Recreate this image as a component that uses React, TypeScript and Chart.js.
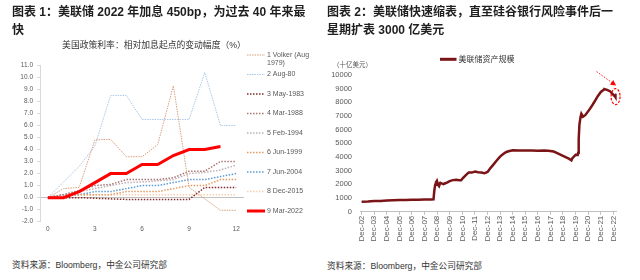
import React, { useEffect, useRef } from "react";
import { Chart, registerables } from "chart.js";

Chart.register(...registerables);

const FONT = "'Liberation Sans', Arial, 'Noto Sans CJK SC', sans-serif";

// ---------- Left chart data ----------
const leftTitle1 = "图表 1：美联储 2022 年加息 450bp，为过去 40 年来最";
const leftTitle2 = "快";
const rateSubtitle = "美国政策利率：相对加息起点的变动幅度（%）";
const rateMonths = ["0", "1", "2", "3", "4", "5", "6", "7", "8", "9", "10", "11", "12"];
const rateSeriesNames = [
  "1 Volker (Aug 1979)",
  "2 Aug-80",
  "3 May-1983",
  "4 Mar-1988",
  "5 Feb-1994",
  "6 Jun-1999",
  "7 Jun-2004",
  "8 Dec-2015",
  "9 Mar-2022",
];
const volker1979 = [0, 0.75, 0.85, 4.8, 4.85, 3.4, 3.4, 4.4, 9.3, 0.85, -0.1, -1.05, -1.05];
const aug1980 = [0, 1.3, 2.6, 4.3, 8.5, 8.5, 6.5, 6.5, 6.5, 6.5, 10.4, 6.0, 6.0];
const may1983 = [0, 0, 0, -0.05, -0.1, -0.15, -0.15, -0.15, -0.15, -0.15, 0.85, 0.85, 0.85];
const mar1988 = [0, 0.25, 0.6, 1.0, 1.1, 1.5, 1.5, 1.5, 1.65, 2.2, 2.2, 3.0, 3.0];
const feb1994 = [0, 0.25, 0.5, 0.75, 1.0, 1.25, 1.3, 1.4, 1.5, 2.0, 2.1, 2.3, 2.7];
const jun1999 = [0, 0.25, 0.25, 0.25, 0.25, 0.5, 0.5, 0.5, 0.75, 1.0, 1.0, 1.5, 1.5];
const jun2004 = [0, 0.25, 0.25, 0.5, 0.5, 0.75, 1.0, 1.0, 1.25, 1.5, 1.5, 1.75, 2.0];
const dec2015 = [0, 0.25, 0.25, 0.25, 0.25, 0.25, 0.25, 0.25, 0.25, 0.25, 0.25, 0.25, 0.25];
const mar2022 = [0, 0, 0.5, 1.25, 2.0, 2.0, 2.75, 2.75, 3.5, 4.0, 4.0, 4.25];
const rateSeries = [volker1979, aug1980, may1983, mar1988, feb1994, jun1999, jun2004, dec2015, mar2022];
const rateColors = ["#D9A07E", "#A9C8E8", "#7F2A2A", "#AD7676", "#BDB0B6", "#E39A60", "#5B9BD5", "#F9CFAF", "#FF0000"];

// ---------- Right chart data ----------
const rightTitle1 = "图表 2：美联储快速缩表，直至硅谷银行风险事件后一";
const rightTitle2 = "星期扩表 3000 亿美元";
const bsLegendLabel = "美联储资产规模";
const bsUnitLabel = "（十亿美元）";
const bsDates = [
  "2002-12-25", "2003-06-25", "2003-12-24", "2004-06-30", "2004-12-29", "2005-06-29", "2005-12-28",
  "2006-06-28", "2006-12-27", "2007-06-27", "2007-12-26", "2008-06-25", "2008-09-10", "2008-10-01",
  "2008-10-29", "2008-11-19", "2008-12-17", "2009-01-21", "2009-02-18", "2009-03-18", "2009-04-15",
  "2009-05-20", "2009-06-24", "2009-08-19", "2009-10-21", "2009-12-23", "2010-03-24", "2010-06-30",
  "2010-09-29", "2010-11-24", "2010-12-29", "2011-03-30", "2011-06-29", "2011-09-28", "2011-12-28",
  "2012-03-28", "2012-06-27", "2012-09-26", "2012-12-26", "2013-03-27", "2013-06-26", "2013-09-25",
  "2013-12-25", "2014-03-26", "2014-06-25", "2014-09-24", "2014-12-31", "2015-06-24", "2015-12-30",
  "2016-06-29", "2016-12-28", "2017-06-28", "2017-10-25", "2018-03-28", "2018-06-27", "2018-09-26",
  "2018-12-26", "2019-03-27", "2019-06-26", "2019-08-28", "2019-09-25", "2019-11-27", "2019-12-25",
  "2020-02-26", "2020-03-11", "2020-03-25", "2020-04-15", "2020-05-20", "2020-06-10", "2020-07-29",
  "2020-09-30", "2020-12-30", "2021-03-31", "2021-06-30", "2021-09-29", "2021-12-29", "2022-03-30",
  "2022-04-13", "2022-06-29", "2022-09-28", "2022-12-28", "2023-02-22", "2023-03-08", "2023-03-15",
];
const bsValues = [
  720, 740, 780, 790, 820, 830, 850,
  860, 870, 880, 890, 900, 910, 1500,
  1980, 2150, 2260, 1960, 1870, 2080, 2090,
  2050, 2020, 2080, 2150, 2240, 2310, 2330,
  2300, 2300, 2420, 2650, 2870, 2860, 2930,
  2880, 2860, 2810, 2910, 3210, 3480, 3760,
  4030, 4220, 4370, 4440, 4500, 4480, 4480,
  4470, 4450, 4470, 4460, 4400, 4300, 4190,
  4080, 3970, 3860, 3760, 3920, 4080, 4170,
  4160, 4310, 5300, 6370, 6970, 7170, 6950,
  7060, 7360, 7690, 8060, 8450, 8760, 8940,
  8965, 8910, 8800, 8550, 8390, 8340, 8640,
];
const bsTickLabels = [
  "Dec-02", "Dec-03", "Dec-04", "Dec-05", "Dec-06", "Dec-07", "Dec-08", "Dec-09", "Dec-10", "Dec-11",
  "Dec-12", "Dec-13", "Dec-14", "Dec-15", "Dec-16", "Dec-17", "Dec-18", "Dec-19", "Dec-20", "Dec-21", "Dec-22",
];
const sourceText = "资料来源：Bloomberg，中金公司研究部";

const BS_COLOR = "#7B1416";
const AXIS_TEXT = "#595959";

function toYear(s: string): number {
  const [y, m, d] = s.split("-").map(Number);
  return y + (Date.UTC(y, m - 1, d) - Date.UTC(y, 0, 1)) / (365.25 * 86400000);
}
function tickLabelToYear(lbl: string): number {
  const yy = Number(lbl.split("-")[1]);
  return toYear(`${2000 + yy}-12-25`);
}

function wrapText(ctx: CanvasRenderingContext2D, text: string, maxW: number): string[] {
  const words = text.split(" ");
  const lines: string[] = [];
  let cur = "";
  for (const w of words) {
    const test = cur ? cur + " " + w : w;
    if (ctx.measureText(test).width > maxW && cur) {
      lines.push(cur);
      cur = w;
    } else cur = test;
  }
  if (cur) lines.push(cur);
  return lines;
}

const leftDecor = {
  id: "leftDecor",
  afterDraw(chart: any) {
    const ctx: CanvasRenderingContext2D = chart.ctx;
    ctx.save();
    ctx.fillStyle = "#333";
    ctx.font = `8.8px ${FONT}`;
    ctx.textAlign = "center";
    ctx.textBaseline = "middle";
    ctx.fillText(rateSubtitle, 154, 46);
    ctx.textAlign = "left";
    ctx.font = `7px ${FONT}`;
    chart.data.datasets.forEach((ds: any, i: number) => {
      const y = 55 + 19.5 * i;
      ctx.save();
      ctx.strokeStyle = ds.borderColor;
      ctx.lineWidth = ds.borderWidth;
      ctx.setLineDash(ds.borderDash || []);
      ctx.beginPath();
      ctx.moveTo(247, y);
      ctx.lineTo(265, y);
      ctx.stroke();
      ctx.restore();
      ctx.fillStyle = AXIS_TEXT;
      const lines = wrapText(ctx, ds.label, 52);
      lines.forEach((ln, j) => ctx.fillText(ln, 267, y + j * 8.3));
    });
    ctx.restore();
  },
};

const rightDecor = {
  id: "rightDecor",
  afterDraw(chart: any) {
    const ctx: CanvasRenderingContext2D = chart.ctx;
    ctx.save();
    ctx.strokeStyle = BS_COLOR;
    ctx.lineWidth = 3;
    ctx.beginPath();
    ctx.moveTo(120, 59.3);
    ctx.lineTo(136.5, 59.3);
    ctx.stroke();
    ctx.fillStyle = "#333";
    ctx.textBaseline = "middle";
    ctx.font = `8px ${FONT}`;
    ctx.fillText(bsLegendLabel, 138.5, 59.3);
    ctx.fillStyle = AXIS_TEXT;
    ctx.font = `6.5px ${FONT}`;
    ctx.fillText(bsUnitLabel, 13, 65.7);

    const meta = chart.getDatasetMeta(0);
    const last = meta.data[meta.data.length - 1];
    const cx = last.x - 0.5;
    const cy = last.y + 3;
    ctx.strokeStyle = "#FF0000";
    ctx.lineWidth = 1.2;
    ctx.setLineDash([2.5, 1.5]);
    ctx.beginPath();
    ctx.ellipse(cx, cy, 4.5, 8, 0, 0, Math.PI * 2);
    ctx.stroke();
    // arrow
    const tx = cx + 0.5, ty = cy - 11;
    const sx = cx - 19, sy = cy - 25;
    ctx.lineWidth = 0.9;
    ctx.setLineDash([1.5, 1.5]);
    ctx.beginPath();
    ctx.moveTo(sx, sy);
    ctx.lineTo(tx, ty);
    ctx.stroke();
    ctx.setLineDash([]);
    const ang = Math.atan2(ty - sy, tx - sx);
    const L = 5.5, W = 2.8;
    ctx.fillStyle = "#FF0000";
    ctx.beginPath();
    ctx.moveTo(tx, ty);
    ctx.lineTo(tx - L * Math.cos(ang) + W * Math.sin(ang), ty - L * Math.sin(ang) - W * Math.cos(ang));
    ctx.lineTo(tx - L * Math.cos(ang) - W * Math.sin(ang), ty - L * Math.sin(ang) + W * Math.cos(ang));
    ctx.closePath();
    ctx.fill();
    ctx.restore();
  },
};

export default function App() {
  const leftRef = useRef<HTMLCanvasElement>(null);
  const rightRef = useRef<HTMLCanvasElement>(null);

  useEffect(() => {
    const dashed = [1.5, 1.5];
    const leftDatasets = rateSeries.map((data, i) => ({
      label: rateSeriesNames[i],
      data,
      borderColor: rateColors[i],
      borderWidth: i === 8 ? 3 : i < 2 ? 1 : 1.5,
      borderDash: i === 8 ? [] : i < 2 ? [1.5, 1] : dashed,
      pointRadius: 0,
      tension: 0,
      fill: false,
      order: i === 8 ? -1 : 0,
    }));

    const left = new Chart(leftRef.current!, {
      type: "line",
      data: { labels: rateMonths, datasets: leftDatasets as any },
      options: {
        responsive: false,
        animation: false,
        events: [],
        layout: { padding: { top: 65.3, right: 76, bottom: 0, left: 0 } },
        plugins: { legend: { display: false }, title: { display: false }, tooltip: { enabled: false } },
        scales: {
          x: {
            type: "category",
            offset: true,
            grid: { display: false, drawTicks: false },
            border: { display: false },
            ticks: {
              autoSkip: false,
              maxRotation: 0,
              padding: 4,
              color: AXIS_TEXT,
              font: { size: 6.5, family: FONT },
              callback: (_v: any, i: number) => (i % 3 === 0 ? rateMonths[i] : ""),
            },
            afterFit: (s: any) => {
              s.height = 23.3;
            },
          },
          y: {
            min: -2,
            max: 11,
            ticks: {
              stepSize: 1,
              padding: 4,
              color: AXIS_TEXT,
              font: { size: 6.5, family: FONT },
              callback: (v: any) => Number(v).toFixed(1),
            },
            grid: {
              color: (c: any) => (c.tick && c.tick.value === 0 ? "#BFBFBF" : "rgba(0,0,0,0)"),
              tickColor: "#D9D9D9",
              tickLength: 3,
            },
            border: { color: "#D9D9D9" },
            afterFit: (s: any) => {
              s.width = 40;
            },
          },
        },
      } as any,
      plugins: [leftDecor],
    });

    const tickVals = bsTickLabels.map(tickLabelToYear);
    const right = new Chart(rightRef.current!, {
      type: "line",
      data: {
        datasets: [
          {
            label: bsLegendLabel,
            data: bsDates.map((d, i) => ({ x: toYear(d), y: bsValues[i] })),
            borderColor: BS_COLOR,
            borderWidth: 2.5,
            pointRadius: 0,
            tension: 0,
            fill: false,
          },
        ],
      },
      options: {
        responsive: false,
        animation: false,
        events: [],
        layout: { padding: { top: 75, right: 23.3, bottom: 0, left: 0 } },
        plugins: { legend: { display: false }, title: { display: false }, tooltip: { enabled: false } },
        scales: {
          x: {
            type: "linear",
            min: 2002.85,
            max: 2023.25,
            afterBuildTicks: (s: any) => {
              s.ticks = tickVals.map((v) => ({ value: v }));
            },
            ticks: {
              autoSkip: false,
              minRotation: 90,
              maxRotation: 90,
              padding: 1,
              color: AXIS_TEXT,
              font: { size: 8, family: FONT },
              callback: (_v: any, i: number) => bsTickLabels[i],
            },
            grid: { drawOnChartArea: false, drawTicks: true, tickLength: 3, color: "#BFBFBF" },
            border: { color: "#BFBFBF" },
            afterFit: (s: any) => {
              s.height = 38.3;
            },
          },
          y: {
            min: 0,
            max: 10000,
            ticks: {
              stepSize: 1000,
              padding: 8,
              color: AXIS_TEXT,
              font: { size: 7.5, family: FONT },
              callback: (v: any) => String(v),
            },
            grid: { display: false, drawTicks: false },
            border: { display: false },
            afterFit: (s: any) => {
              s.width = 40;
            },
          },
        },
      } as any,
      plugins: [rightDecor],
    });

    return () => {
      left.destroy();
      right.destroy();
    };
  }, []);

  const titleStyle: React.CSSProperties = {
    position: "absolute",
    fontSize: 12,
    fontWeight: "bold",
    lineHeight: "18.5px",
    color: "#1F1F1F",
    whiteSpace: "nowrap",
  };
  const srcStyle: React.CSSProperties = {
    position: "absolute",
    fontSize: 8.7,
    lineHeight: "10px",
    color: "#333",
    whiteSpace: "nowrap",
  };

  return (
    <div
      style={{
        position: "fixed",
        left: 0,
        top: 0,
        width: 640,
        height: 280,
        background: "#fff",
        fontFamily: FONT,
        overflow: "hidden",
      }}
    >
      <canvas ref={leftRef} width={320} height={245} style={{ position: "absolute", left: 0, top: 0 }} />
      <canvas ref={rightRef} width={320} height={250} style={{ position: "absolute", left: 320, top: 0 }} />
      <div style={{ ...titleStyle, left: 12, top: 2.75 }}>
        <div>{leftTitle1}</div>
        <div>{leftTitle2}</div>
      </div>
      <div style={{ ...titleStyle, left: 327, top: 2.75 }}>
        <div>{rightTitle1}</div>
        <div>{rightTitle2}</div>
      </div>
      <div style={{ ...srcStyle, left: 12, top: 260 }}>{sourceText}</div>
      <div style={{ ...srcStyle, left: 327, top: 261 }}>{sourceText}</div>
    </div>
  );
}
